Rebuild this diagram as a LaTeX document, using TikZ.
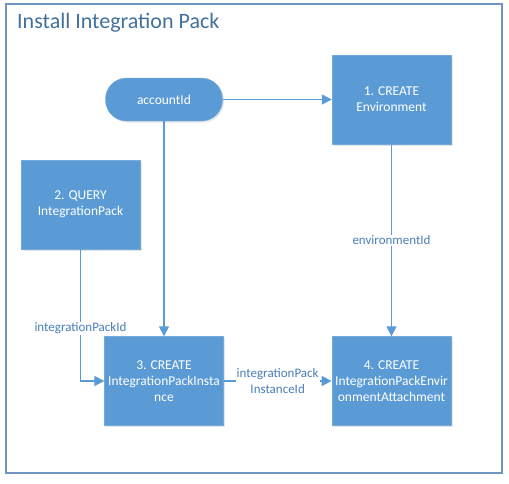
\documentclass[tikz,border=0pt]{standalone}
\usepackage{fontspec}
\setmainfont{Carlito}
\usetikzlibrary{arrows.meta,shadows}
\definecolor{boxblue}{HTML}{5B9BD5}
\definecolor{titleblue}{HTML}{41719C}
\definecolor{frameblue}{HTML}{7094C0}
\definecolor{labelblue}{HTML}{4A7EBB}
\begin{document}
\begin{tikzpicture}[x=1pt,y=-1pt,
  every node/.style={font=\fontsize{13.5}{16}\selectfont},
  stepbox/.style={draw=boxblue!85!white,fill=boxblue,text=white,
    minimum width=119pt,minimum height=89pt,align=center,
    drop shadow={shadow xshift=1.5pt,shadow yshift=-1.5pt,opacity=0.2}},
  idpill/.style={stepbox,rounded corners=21pt,minimum width=117pt,
    minimum height=43pt},
  link/.style={draw=boxblue,line width=1.5pt,
    -{Triangle[length=10pt,width=10pt]}},
  lbl/.style={fill=white,text=labelblue,inner sep=1pt,align=center,
    font=\fontsize{13}{16}\selectfont}]
  \useasboundingbox (0,0) rectangle (509,483);
  % frame and title
  \draw[frameblue,fill=white,line width=1.2pt,
    drop shadow={shadow xshift=1pt,shadow yshift=-1pt,opacity=0.15}]
    (6,4) rectangle (502,473);
  \node[anchor=base west,inner sep=0pt,text=titleblue,
    font=\fontsize{22}{26}\selectfont] (title) at (17,28)
    {Install Integration Pack};
  % steps
  \node[idpill] (acct) at (164,99.5) {accountId};
  \node[stepbox] (env) at (391.5,99.5) {1. CREATE\\Environment};
  \node[stepbox] (query) at (80.5,204.5) {2. QUERY\\IntegrationPack};
  \node[stepbox] (inst) at (164,381) {3. CREATE\\IntegrationPackInsta\\nce};
  \node[stepbox] (att) at (391.5,381) {4. CREATE\\IntegrationPackEnvir\\onmentAttachment};
  % connectors
  \draw[link] (acct) -- (env);
  \draw[link] (acct) -- (inst);
  \draw[link] (env) -- node[lbl] {environmentId} (att);
  \draw[link] (query) |- node[lbl,pos=0.3] {integrationPackId} (inst);
  \draw[link] (inst) -- node[lbl] {integrationPack\\InstanceId} (att);
\end{tikzpicture}
\end{document}
